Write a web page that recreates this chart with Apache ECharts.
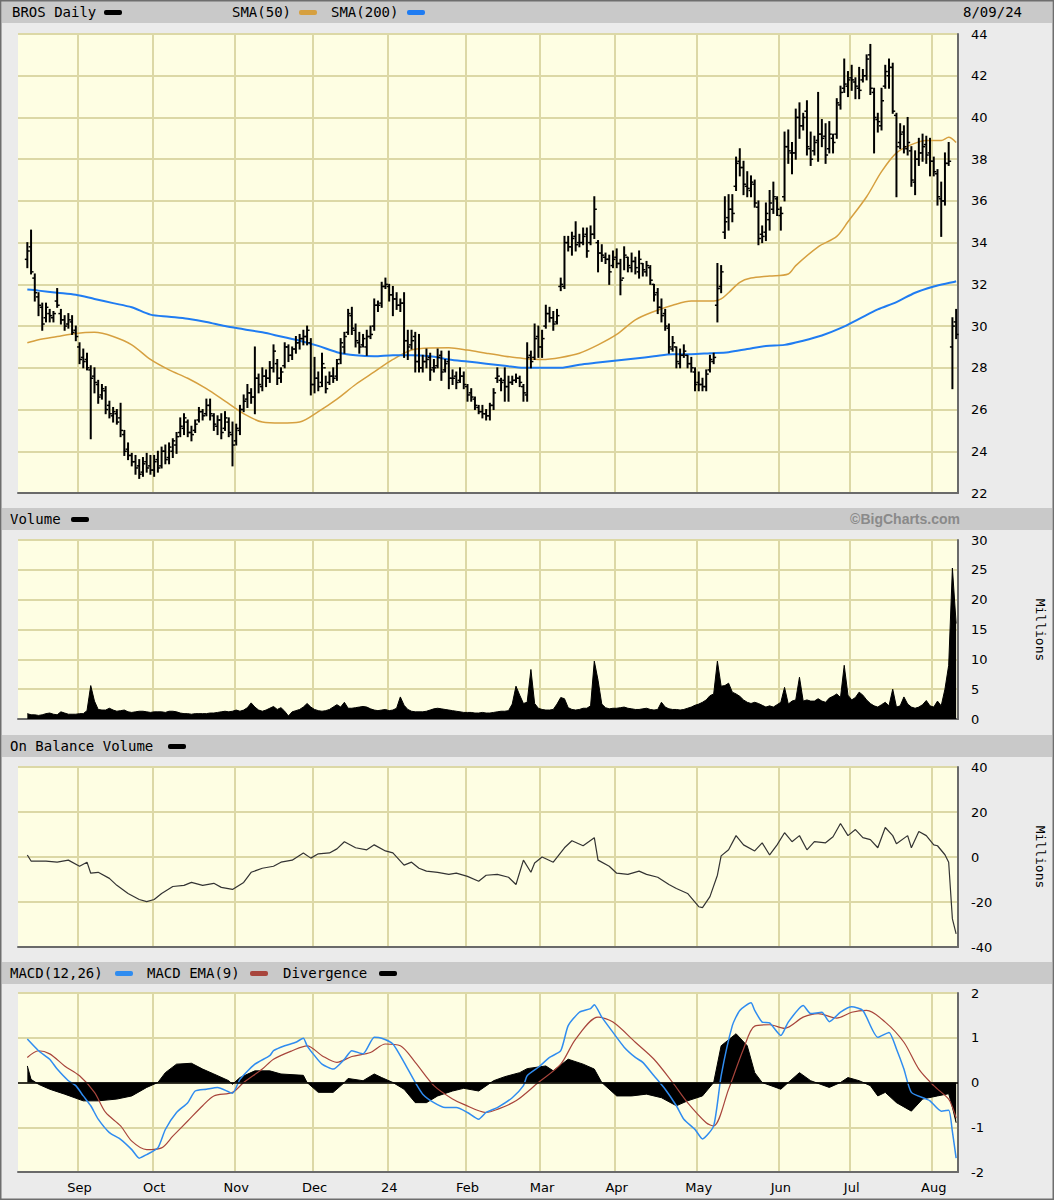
<!DOCTYPE html>
<html><head><meta charset="utf-8">
<script src="https://cdn.jsdelivr.net/npm/echarts/dist/echarts.min.js"></script>
<style>html,body{margin:0;padding:0;background:#ebebeb}#c{width:1054px;height:1200px}</style>
</head><body><div id="c"></div><script>
// ---------- calendar ----------
const startDate = '2023-08-10', endDate = '2024-08-09';
const holidays = ['2023-09-04','2023-11-23','2023-12-25','2024-01-01','2024-01-15','2024-02-19','2024-03-29','2024-05-27','2024-06-19','2024-07-04'];
const dates = [];
for (let d = new Date(startDate + 'T00:00:00Z'); d <= new Date(endDate + 'T00:00:00Z'); d.setUTCDate(d.getUTCDate() + 1)) {
  const wd = d.getUTCDay(); const s = d.toISOString().slice(0, 10);
  if (wd !== 0 && wd !== 6 && holidays.indexOf(s) < 0) dates.push(s);
}
const monthLabels = ['24','Feb','Mar','Apr','May','Jun','Jul','Aug','Sep','Oct','Nov','Dec'];
const priceTicks = [22, 44, 2], volTicks = [0, 30, 5], obvTicks = [-40, 40, 20], macdTicks = [-2, 2, 1];

// ---------- price (daily OHLC) ----------
const opens = [null,null,33.2,33.8,32.3,31.4,30.9,30.4,30.6,30.4,31.2,30.6,30.3,30.1,30.2,29.8,
 29.0,28.5,28.4,27.9,27.6,27.2,26.7,26.9,26.2,25.7,25.8,25.6,24.8,24.1,23.8,23.5,23.3,23.0,23.5,23.3,
 23.1,23.6,23.3,24.0,23.7,24.0,24.3,24.9,25.1,25.4,24.9,25.0,25.5,25.9,25.8,26.2,25.7,25.2,25.5,25.1,25.4,24.8,
 24.5,25.0,26.0,26.5,26.8,26.6,27.5,27.1,27.6,27.5,28.0,28.2,27.5,28.1,29.0,28.6,28.9,29.2,29.4,29.5,29.2,
 27.2,27.5,27.3,28.0,27.3,27.6,27.6,28.4,29.0,29.7,30.5,29.8,29.2,29.1,29.0,29.5,30.0,31.0,31.1,31.9,
 31.9,31.5,31.3,31.0,31.1,29.3,29.1,29.5,28.3,28.0,28.3,28.5,28.0,28.1,28.6,27.9,28.3,27.5,27.6,27.4,27.6,
 27.1,26.8,26.5,26.1,25.9,25.8,25.7,26.2,27.5,27.4,27.4,27.1,27.3,27.4,27.5,27.1,26.7,28.6,28.5,29.5,
 29.0,30.0,30.6,30.4,30.2,31.9,31.9,34.0,33.8,34.3,34.0,34.0,34.4,34.0,34.4,34.0,33.5,33.3,33.2,32.9,
 33.3,33.0,32.3,33.3,32.8,33.1,32.6,33.0,32.6,32.8,32.0,31.6,30.9,30.6,29.9,28.9,29.0,28.2,28.6,28.6,28.2,27.8,
 27.3,27.2,27.1,27.9,28.3,31.0,31.9,34.5,35.2,35.6,36.7,37.9,37.6,36.7,36.5,36.8,35.7,34.4,34.5,35.1,35.6,36.1,
 35.3,36.2,38.6,38.3,38.3,40.0,39.6,40.3,38.5,38.4,38.9,39.2,39.1,38.5,39.0,39.2,40.6,41.4,41.5,
 41.9,41.7,41.4,41.8,42.0,43.0,41.2,39.9,39.6,41.5,42.0,42.4,40.1,38.8,39.3,38.5,38.4,36.9,38.0,38.3,38.7,38.3,
 37.9,37.3,36.1,36.0,37.8,29.0,30.2];
const highs = [null,null,34.0,34.6,32.5,31.6,31.1,31.1,30.8,30.7,31.8,30.8,30.5,30.6,30.5,30.0,
 29.2,28.9,28.7,28.1,28.0,27.4,27.2,27.1,26.4,26.1,26.0,26.3,25.0,24.4,23.9,23.8,23.6,23.7,23.9,23.8,
 23.8,24.0,24.2,24.3,24.4,24.6,24.9,25.6,25.8,25.5,25.2,25.5,26.1,26.0,26.5,26.5,25.8,25.7,25.8,25.9,25.6,25.4,
 25.3,26.2,26.7,27.2,27.0,29.0,27.7,28.0,27.9,28.3,29.1,28.4,28.0,29.2,29.1,29.0,29.5,29.6,29.8,30.0,29.4,
 28.5,27.8,28.7,27.6,27.8,28.0,28.4,29.4,29.7,30.8,30.9,30.1,29.7,29.6,29.8,30.0,31.3,31.2,32.1,32.3,
 32.0,31.9,31.6,31.3,31.6,29.8,29.8,29.7,29.6,28.6,28.9,28.7,28.4,28.9,28.8,28.4,28.8,27.9,27.8,28.0,27.8,
 27.2,27.0,26.6,26.2,26.2,26.0,26.3,27.0,28.0,27.5,28.0,27.6,27.6,27.7,27.6,27.2,29.2,28.8,30.1,30.0,
 29.8,31.0,30.9,30.7,30.8,32.3,34.3,34.3,34.5,35.0,34.4,34.7,34.7,34.8,36.2,34.1,33.9,33.5,33.4,33.6,
 33.7,33.2,33.8,33.3,33.5,33.3,33.6,33.0,33.1,32.9,32.0,31.8,31.3,30.8,30.1,29.5,29.0,28.9,29.1,28.6,28.5,28.0,
 27.8,27.5,27.9,28.6,28.7,33.0,32.9,36.2,36.3,36.3,38.1,38.5,37.9,37.4,37.2,37.0,36.0,34.8,35.9,36.5,36.9,36.2,
 35.7,39.3,39.4,38.8,40.4,40.7,40.2,40.8,39.3,39.1,41.2,39.9,39.7,39.8,39.2,40.9,41.5,42.8,42.2,
 42.5,41.9,42.4,42.3,43.0,43.5,41.4,40.2,41.4,42.5,42.8,42.6,40.2,39.7,39.6,40.0,38.6,38.4,39.0,39.2,39.1,39.0,
 38.1,37.5,36.9,38.3,38.8,30.4,30.8];
const lows = [null,null,32.8,32.5,31.2,30.5,29.8,30.2,30.2,30.2,30.9,30.1,29.8,29.9,29.6,29.3,
 28.2,28.0,27.9,24.6,26.8,26.3,26.5,25.8,25.6,25.4,25.3,24.7,23.8,23.6,23.3,22.9,22.7,22.8,23.0,22.9,
 22.8,23.0,23.2,23.4,23.4,23.7,23.9,24.7,24.8,24.7,24.5,24.9,25.4,25.5,25.7,25.5,25.0,24.8,24.6,25.0,24.7,23.3,
 24.3,24.8,25.9,26.1,26.3,25.8,26.8,26.9,27.1,27.3,27.8,27.2,27.3,28.0,28.3,28.4,28.7,28.9,29.1,29.1,26.7,
 26.8,26.9,27.1,26.8,27.2,27.3,27.4,28.2,28.7,29.6,29.6,29.0,28.7,29.0,28.6,29.4,29.8,30.7,30.9,31.8,
 31.2,30.5,30.8,30.7,28.5,28.4,28.9,27.8,27.8,27.8,28.0,27.4,27.8,28.0,27.4,27.8,27.0,27.2,27.0,27.3,27.0,
 26.4,26.4,26.0,25.8,25.6,25.5,25.5,26.0,27.3,26.9,26.4,26.4,27.2,27.3,27.1,26.4,26.4,28.0,28.4,28.5,
 28.5,29.9,30.2,29.8,30.1,31.7,31.8,33.6,33.4,33.6,33.8,33.9,33.3,33.9,34.2,32.6,33.1,33.0,32.0,32.8,
 32.8,31.5,32.7,32.6,32.6,32.5,32.3,32.4,32.4,32.0,31.2,30.6,30.2,29.8,28.7,28.8,28.0,28.0,28.5,28.0,27.8,26.9,
 26.9,26.9,26.9,27.8,28.2,30.2,31.6,34.2,34.6,35.0,36.5,37.2,36.3,36.2,36.2,35.7,33.9,34.0,34.1,34.6,35.4,35.3,
 34.6,36.0,37.8,37.3,38.0,39.0,39.4,38.2,37.7,38.2,37.9,38.6,37.8,38.3,38.3,39.0,40.4,41.2,41.0,
 41.3,40.9,40.9,41.7,41.8,41.1,38.3,39.3,39.4,41.4,41.4,40.2,36.2,38.5,38.3,38.2,36.7,36.3,37.7,37.9,37.8,37.2,
 37.2,35.8,34.3,35.8,37.7,27.0,29.4];
const closes = [null,null,33.6,32.6,31.6,31.0,30.1,30.9,30.5,30.6,31.0,30.3,30.0,30.3,29.7,29.5,
 28.4,28.3,28.0,27.5,27.3,26.6,27.0,26.0,25.8,25.9,25.4,25.0,24.0,23.8,23.5,23.2,22.9,23.4,23.2,23.1,
 23.5,23.2,24.0,23.6,24.2,24.5,24.7,25.2,25.6,24.9,24.8,25.3,25.9,25.7,26.2,25.8,25.3,25.5,24.9,25.6,24.9,24.3,
 25.1,26.0,26.4,26.8,26.6,27.5,27.2,27.6,27.5,28.0,28.8,27.5,27.8,29.0,28.6,28.9,29.2,29.4,29.5,29.8,27.2,
 27.5,27.1,28.2,27.0,27.6,27.5,28.2,29.2,29.5,30.6,29.9,29.3,29.0,29.4,29.5,29.6,31.0,31.0,31.9,32.0,
 31.5,31.3,31.0,31.1,29.3,29.0,29.3,28.3,28.0,28.3,28.4,27.9,28.0,28.5,27.8,28.2,27.5,27.5,27.3,27.6,27.2,
 26.7,26.6,26.2,25.9,25.8,25.7,26.2,26.8,27.6,27.3,27.1,27.3,27.4,27.5,27.3,26.8,28.5,28.3,29.4,29.0,
 29.4,30.6,30.4,30.1,30.5,32.0,34.0,33.8,34.2,33.9,34.0,34.3,33.6,34.4,35.6,33.5,33.4,33.2,32.6,33.2,
 33.0,32.2,33.4,32.9,33.1,32.8,33.2,32.7,32.9,32.2,31.5,30.9,30.5,30.0,29.0,29.2,28.3,28.6,28.8,28.2,28.0,27.2,
 27.2,27.1,27.7,28.4,28.5,31.8,32.6,35.0,35.6,35.4,37.8,37.6,36.8,36.6,36.9,35.9,34.2,34.3,35.4,35.9,36.2,35.6,
 35.4,38.6,38.4,38.3,40.0,39.6,40.0,38.6,38.0,38.8,39.2,39.0,38.2,39.2,38.8,40.7,41.2,41.6,41.8,
 41.8,41.5,41.3,42.0,42.8,41.4,40.0,39.8,40.8,42.2,42.4,40.3,38.6,39.2,38.6,38.8,37.0,38.0,38.3,38.6,38.2,37.9,
 37.4,36.2,36.0,37.8,37.9,30.0,29.6];

// moving averages: [trading-day index, value]
const sma50Pts = [[2,29.2],[5,29.35],[10,29.5],[15,29.65],[20,29.7],[25,29.5],[30,29.1],[35,28.4],[40,27.9],[45,27.5],[50,27.0],[55,26.4],[60,25.8],[65,25.4],[70,25.35],[75,25.4],[80,25.9],[85,26.5],[90,27.2],[95,27.8],[100,28.4],[105,28.85],[110,28.95],[115,28.96],[120,28.85],[125,28.7],[130,28.56],[135,28.45],[140,28.4],[145,28.5],[150,28.7],[155,29.1],[160,29.6],[165,30.3],[170,30.7],[175,31.0],[180,31.2],[186,31.2],[188,31.3],[190,31.6],[193,32.1],[196,32.3],[201,32.4],[206,32.5],[208,32.9],[214,33.8],[219,34.3],[222,35.0],[227,36.2],[231,37.4],[235,38.3],[239,38.7],[243,38.9],[247,38.9],[249,39.05],[251,38.8]];
const sma200Pts = [[2,31.75],[5,31.7],[10,31.6],[15,31.5],[20,31.3],[25,31.1],[30,30.9],[35,30.55],[40,30.45],[45,30.35],[50,30.2],[55,30.0],[60,29.85],[65,29.7],[70,29.5],[75,29.3],[80,29.05],[85,28.75],[90,28.6],[95,28.55],[100,28.6],[105,28.6],[110,28.55],[115,28.4],[120,28.3],[125,28.2],[130,28.1],[135,28.0],[140,28.0],[145,28.0],[150,28.15],[155,28.25],[160,28.35],[165,28.45],[170,28.55],[175,28.65],[180,28.65],[185,28.7],[190,28.75],[195,28.9],[200,29.05],[205,29.1],[210,29.3],[215,29.55],[220,29.9],[225,30.35],[230,30.8],[235,31.15],[240,31.6],[245,31.9],[250,32.1],[251,32.15]];

// ---------- volume (millions) ----------
const volume = [null,null,0.9,0.7,0.7,0.6,0.7,0.9,1.0,0.8,0.7,1.2,1.0,0.8,0.8,0.8,
 0.9,0.9,1.4,5.6,3.0,1.6,1.5,1.5,1.8,1.5,1.3,1.4,1.5,1.2,1.1,1.2,1.3,1.3,1.2,1.1,
 1.2,1.2,1.2,1.1,1.3,1.3,1.2,1.0,0.9,0.9,0.8,0.9,0.9,0.9,0.9,1.0,1.0,1.1,1.2,1.3,1.2,1.3,
 1.5,1.3,1.5,1.9,2.7,2.0,1.5,1.3,1.5,1.8,2.1,1.6,1.9,1.3,0.5,1.2,1.4,1.6,2.0,2.6,2.0,
 1.6,1.4,1.3,1.4,1.6,2.0,2.4,2.0,2.8,1.8,1.8,1.9,2.0,2.1,2.0,1.7,1.5,1.4,1.5,1.6,
 1.4,1.5,1.8,3.7,2.3,1.6,1.3,1.2,1.2,1.2,1.3,1.5,1.7,1.8,1.7,1.6,1.5,1.4,1.3,1.2,1.1,
 1.1,1.1,1.0,1.0,1.1,1.0,1.0,1.1,1.2,1.3,1.3,1.4,2.5,5.5,4.0,2.6,2.8,8.3,2.6,1.8,
 1.6,1.5,1.5,1.6,2.5,3.6,3.4,1.9,1.6,1.5,1.6,1.8,1.8,2.2,9.7,6.5,2.5,1.9,1.7,1.8,
 1.8,1.9,2.0,1.8,1.7,1.6,1.6,1.7,1.8,1.6,1.5,1.6,2.8,2.0,1.7,1.6,1.6,1.5,1.6,1.8,2.0,2.3,
 2.5,2.8,3.2,3.9,4.2,9.7,5.5,5.6,6.0,4.5,4.2,3.8,3.2,2.8,2.6,2.8,2.6,2.3,2.0,2.2,2.0,2.4,
 2.8,5.3,2.5,3.0,3.2,7.0,3.0,3.2,3.0,3.0,3.4,3.0,2.8,3.5,3.8,4.2,3.6,9.0,4.0,
 3.2,3.6,4.5,4.0,3.2,2.6,2.2,2.0,2.4,2.8,2.2,5.0,2.0,2.2,3.7,2.5,2.0,1.8,2.0,2.4,3.1,2.2,
 2.0,3.0,2.2,5.0,9.0,25.3,16.0];

// ---------- on balance volume (millions) ----------
const obvPts = [[2,0.9],[3,-1.8],[7,-1.8],[10,-2.3],[13,-1.4],[16,-4.1],[18,-2.3],[19,-7.2],[21,-6.8],[24,-9.5],[26,-12.6],[29,-16.2],[32,-18.9],[34,-19.8],[36,-18.9],[38,-16.2],[41,-13.1],[44,-12.6],[46,-11.3],[49,-12.6],[52,-11.7],[54,-13.5],[57,-14.4],[60,-11.3],[62,-6.8],[65,-5.0],[68,-4.1],[70,-2.3],[73,-1.4],[76,1.8],[78,-0.5],[80,1.4],[83,1.8],[85,3.6],[87,6.8],[90,4.1],[93,3.2],[95,5.4],[98,2.7],[100,1.8],[103,-3.6],[105,-2.3],[107,-5.0],[109,-6.3],[112,-6.8],[115,-7.7],[117,-7.2],[120,-8.6],[123,-10.8],[125,-8.1],[128,-7.7],[131,-9.0],[133,-12.2],[135,-1.4],[137,-6.8],[138,-2.7],[140,0],[143,-2.3],[146,4.1],[148,7.2],[151,5.0],[154,8.6],[155,-1.4],[158,-4.1],[160,-7.2],[163,-7.7],[166,-6.3],[168,-7.7],[171,-9.0],[174,-12.2],[176,-14.0],[179,-16.2],[182,-22.1],[183,-22.5],[185,-17.6],[187,-8.1],[188,0.5],[190,3.2],[192,9.5],[194,5.4],[197,2.7],[199,6.3],[201,0.9],[203,5.4],[205,10.8],[207,6.8],[209,9.5],[211,3.2],[213,6.8],[216,6.3],[218,9.0],[220,14.9],[222,9.5],[224,12.2],[226,8.6],[228,7.7],[230,4.1],[232,13.1],[234,9.5],[235,5.9],[238,9.5],[239,4.1],[241,11.3],[243,9.5],[245,5.4],[246,5.0],[248,1.0],[249,-2.3],[250,-27.5],[251,-34.2]];

// ---------- MACD ----------
const macdPts = [[2,0.97],[5,0.71],[8,0.52],[10,0.30],[13,0.04],[15,-0.07],[17,-0.30],[19,-0.52],[21,-0.82],[24,-1.12],[27,-1.27],[30,-1.50],[32,-1.69],[34,-1.61],[37,-1.46],[39,-1.05],[42,-0.67],[45,-0.45],[47,-0.19],[50,-0.15],[53,-0.11],[57,-0.24],[59,0.07],[63,0.41],[67,0.60],[68,0.71],[71,0.82],[74,0.90],[76,0.99],[77,0.82],[79,0.60],[81,0.41],[84,0.30],[87,0.52],[89,0.71],[92,0.64],[95,1.01],[97,0.99],[100,0.86],[103,0.45],[106,0.0],[108,-0.26],[111,-0.45],[114,-0.56],[117,-0.56],[120,-0.67],[123,-0.82],[125,-0.67],[128,-0.56],[132,-0.34],[135,-0.07],[136,0.15],[139,0.34],[142,0.56],[145,0.71],[147,1.27],[150,1.57],[153,1.65],[154,1.74],[156,1.46],[159,1.12],[162,0.79],[165,0.56],[167,0.45],[170,0.15],[173,-0.15],[176,-0.52],[178,-0.82],[181,-1.05],[183,-1.26],[186,-0.97],[188,0.15],[191,1.27],[193,1.61],[196,1.78],[197,1.61],[199,1.35],[201,1.33],[204,1.05],[206,1.35],[210,1.72],[212,1.54],[215,1.57],[217,1.36],[220,1.57],[223,1.69],[226,1.61],[230,1.01],[233,1.12],[235,0.75],[237,0.30],[239,-0.22],[243,-0.37],[244,-0.41],[247,-0.64],[249,-0.62],[250,-1.1],[251,-1.69]];
const signalPts = [[2,0.56],[5,0.71],[8,0.64],[12,0.37],[16,0.15],[20,-0.22],[23,-0.67],[27,-0.97],[30,-1.31],[34,-1.50],[38,-1.46],[41,-1.20],[45,-0.86],[49,-0.52],[52,-0.30],[57,-0.22],[60,0.0],[65,0.30],[68,0.52],[73,0.71],[77,0.82],[81,0.60],[85,0.45],[89,0.58],[94,0.67],[98,0.86],[102,0.82],[106,0.45],[111,-0.07],[116,-0.37],[119,-0.49],[125,-0.67],[128,-0.60],[133,-0.41],[139,0.0],[145,0.41],[149,0.97],[155,1.46],[159,1.35],[165,0.90],[170,0.52],[175,0.0],[179,-0.45],[184,-0.90],[186,-0.97],[190,-0.15],[194,0.75],[197,1.26],[201,1.29],[205,1.21],[210,1.46],[214,1.54],[219,1.44],[223,1.57],[227,1.61],[232,1.35],[237,0.90],[241,0.30],[245,-0.07],[249,-0.37],[250,-0.55],[251,-0.79]];
const divergencePts = [[2,0.37],[3,0.07],[5,-0.04],[8,-0.15],[12,-0.26],[17,-0.41],[21,-0.41],[26,-0.37],[30,-0.30],[34,-0.11],[37,0.0],[39,0.22],[42,0.41],[46,0.43],[49,0.30],[52,0.19],[56,0.04],[57,-0.04],[59,0.11],[63,0.26],[67,0.26],[70,0.19],[76,0.16],[77,0.0],[80,-0.22],[84,-0.22],[87,0.0],[88,0.09],[92,0.04],[95,0.19],[97,0.11],[100,0.0],[103,-0.15],[106,-0.45],[109,-0.45],[112,-0.30],[116,-0.19],[119,-0.13],[123,-0.19],[127,0.04],[130,0.13],[134,0.22],[136,0.31],[141,0.37],[143,0.26],[147,0.52],[151,0.41],[154,0.30],[156,0.0],[160,-0.30],[164,-0.30],[168,-0.26],[172,-0.34],[176,-0.52],[179,-0.41],[183,-0.30],[186,0.0],[188,0.82],[192,1.09],[195,0.82],[197,0.22],[199,0.0],[204,-0.15],[206,0.0],[209,0.22],[212,0.04],[217,-0.11],[220,0.0],[222,0.11],[225,0.04],[228,-0.07],[230,-0.30],[232,-0.22],[235,-0.45],[239,-0.64],[242,-0.37],[246,-0.30],[249,-0.25],[250,-0.55],[251,-0.9]];

// ---------- chart ----------
const toCat = pts => pts.map(p => [dates[p[0]], p[1]]);
const isMonthStart = i => i > 0 && dates[i].slice(5, 7) !== dates[i - 1].slice(5, 7);
const GRIDC = '#dcd8a6', BG = '#fefee3', FRAME = '#6a6a6a';
const GL = 18, GW = 940;
const gridTops = [34, 540, 767, 993], gridHeights = [459, 179, 180, 179];
const ohlc = dates.map((d, i) => [i, opens[i], highs[i], lows[i], closes[i]]);

function xAx(gi) {
  return { type: 'category', gridIndex: gi, data: dates, boundaryGap: true,
    axisLine: { show: true, onZero: false, lineStyle: { color: FRAME, width: 2 } }, axisTick: { show: false },
    axisLabel: { show: gi === 3, interval: (i) => isMonthStart(i), margin: 9, color: '#000',
      fontFamily: 'DejaVu Sans', fontSize: 13,
      formatter: (v) => monthLabels[(+v.slice(5, 7)) - 1] },
    splitLine: { show: true, interval: (i) => isMonthStart(i), lineStyle: { color: GRIDC, width: 2 } } };
}
function yAx(gi, t, fmt) {
  return { type: 'value', gridIndex: gi, position: 'right', min: t[0], max: t[1], interval: t[2],
    axisLine: { show: true, lineStyle: { color: FRAME, width: 2 } }, axisTick: { show: false },
    axisLabel: { color: '#000', fontFamily: 'DejaVu Sans', fontSize: 13, margin: 13, formatter: fmt },
    splitLine: { show: true, lineStyle: { color: GRIDC, width: 2 } } };
}
function header(y, items, extra) {
  const els = [{ type: 'rect', shape: { x: 2, y: y, width: 1050, height: 22 }, style: { fill: '#c9c9c9' } }];
  items.forEach(it => {
    els.push({ type: 'text', x: it.x, y: y + 11, style: { text: it.t, fill: '#000', font: '14px "DejaVu Sans Mono"', textVerticalAlign: 'middle', verticalAlign: 'middle' } });
    els.push({ type: 'rect', shape: { x: it.mx, y: y + 9, width: 18, height: 5, r: 2 }, style: { fill: it.c } });
  });
  return els.concat(extra || []);
}
const graphics = [].concat(
  header(1, [{ x: 12, t: 'BROS Daily', mx: 104, c: '#000' }, { x: 232, t: 'SMA(50)', mx: 299, c: '#d6a040' }, { x: 331, t: 'SMA(200)', mx: 407, c: '#1f7cf2' }],
    [{ type: 'text', x: 1022, y: 12, style: { text: '8/09/24', fill: '#000', font: '14px "DejaVu Sans Mono"', textAlign: 'right', align: 'right', textVerticalAlign: 'middle', verticalAlign: 'middle' } }]),
  header(508, [{ x: 10, t: 'Volume', mx: 71, c: '#000' }],
    [{ type: 'text', x: 960, y: 519, style: { text: '©BigCharts.com', fill: '#8a8a8a', font: 'bold 14px "Liberation Sans"', textAlign: 'right', align: 'right', textVerticalAlign: 'middle', verticalAlign: 'middle' } }]),
  header(735, [{ x: 10, t: 'On Balance Volume', mx: 168, c: '#000' }]),
  header(962, [{ x: 10, t: 'MACD(12,26)', mx: 115, c: '#2f8cf0' }, { x: 147, t: 'MACD EMA(9)', mx: 250, c: '#a8453c' }, { x: 283, t: 'Divergence', mx: 379, c: '#000' }]),
  [{ type: 'text', x: 1040, y: 630, rotation: -Math.PI / 2, style: { text: 'Millions', fill: '#000', font: '13px "DejaVu Sans Mono"', textAlign: 'center', align: 'center', textVerticalAlign: 'middle', verticalAlign: 'middle' } },
   { type: 'text', x: 1040, y: 857, rotation: -Math.PI / 2, style: { text: 'Millions', fill: '#000', font: '13px "DejaVu Sans Mono"', textAlign: 'center', align: 'center', textVerticalAlign: 'middle', verticalAlign: 'middle' } },
   { type: 'rect', shape: { x: 0.5, y: 0.5, width: 1053, height: 1199 }, style: { fill: 'none', stroke: '#6e6e6e', lineWidth: 2 } }]
);

const option = {
  animation: false,
  backgroundColor: '#ebebeb',
  grid: gridTops.map((t, i) => ({ left: GL, width: GW, top: t, height: gridHeights[i], show: true, backgroundColor: BG, borderWidth: 0 })),
  xAxis: [0, 1, 2, 3].map(xAx),
  yAxis: [yAx(0, priceTicks), yAx(1, volTicks), yAx(2, obvTicks), yAx(3, macdTicks)],
  graphic: graphics,
  series: [
    { type: 'custom', name: 'BROS', xAxisIndex: 0, yAxisIndex: 0, data: ohlc, encode: { x: 0, y: [1, 2, 3, 4] }, z: 3,
      renderItem: function (params, api) {
        if (api.value(2) == null || isNaN(api.value(2))) return;
        const i = api.value(0);
        const h = api.coord([i, api.value(2)]), l = api.coord([i, api.value(3)]);
        const o = api.coord([i, api.value(1)]), c = api.coord([i, api.value(4)]);
        const x = h[0];
        return { type: 'group', children: [
          { type: 'line', shape: { x1: x, y1: h[1] - 0.5, x2: x, y2: l[1] + 0.5 }, style: { stroke: '#000', lineWidth: 2 } },
          { type: 'line', shape: { x1: x - 2.5, y1: o[1], x2: x, y2: o[1] }, style: { stroke: '#000', lineWidth: 1.5 } },
          { type: 'line', shape: { x1: x, y1: c[1], x2: x + 2.5, y2: c[1] }, style: { stroke: '#000', lineWidth: 1.5 } }
        ] };
      } },
    { type: 'line', name: 'SMA(50)', xAxisIndex: 0, yAxisIndex: 0, data: toCat(sma50Pts), smooth: 0.3, showSymbol: false, lineStyle: { color: '#d6a040', width: 1.5 }, z: 2 },
    { type: 'line', name: 'SMA(200)', xAxisIndex: 0, yAxisIndex: 0, data: toCat(sma200Pts), smooth: 0.3, showSymbol: false, lineStyle: { color: '#1f7cf2', width: 2 }, z: 2 },
    { type: 'line', name: 'Volume', xAxisIndex: 1, yAxisIndex: 1, data: volume, showSymbol: false, lineStyle: { color: '#000', width: 1 }, areaStyle: { color: '#000', opacity: 1 } },
    { type: 'line', name: 'OBV', xAxisIndex: 2, yAxisIndex: 2, data: toCat(obvPts), showSymbol: false, lineStyle: { color: '#333', width: 1.2 } },
    { type: 'line', name: 'Divergence', xAxisIndex: 3, yAxisIndex: 3, data: toCat(divergencePts), showSymbol: false, lineStyle: { color: '#000', width: 1 }, areaStyle: { color: '#000', opacity: 1 }, z: 1,
      markLine: { silent: true, symbol: 'none', label: { show: false }, lineStyle: { color: '#000', width: 1.5, type: 'solid' }, data: [{ yAxis: 0 }] } },
    { type: 'line', name: 'MACD EMA(9)', xAxisIndex: 3, yAxisIndex: 3, data: toCat(signalPts), smooth: 0.3, showSymbol: false, lineStyle: { color: '#a8453c', width: 1.2 }, z: 3 },
    { type: 'line', name: 'MACD(12,26)', xAxisIndex: 3, yAxisIndex: 3, data: toCat(macdPts), smooth: 0.2, showSymbol: false, lineStyle: { color: '#2f8cf0', width: 1.5 }, z: 4 }
  ]
};
const chart = echarts.init(document.getElementById('c'), null, { renderer: 'svg' });
chart.setOption(option);
</script></body></html>
